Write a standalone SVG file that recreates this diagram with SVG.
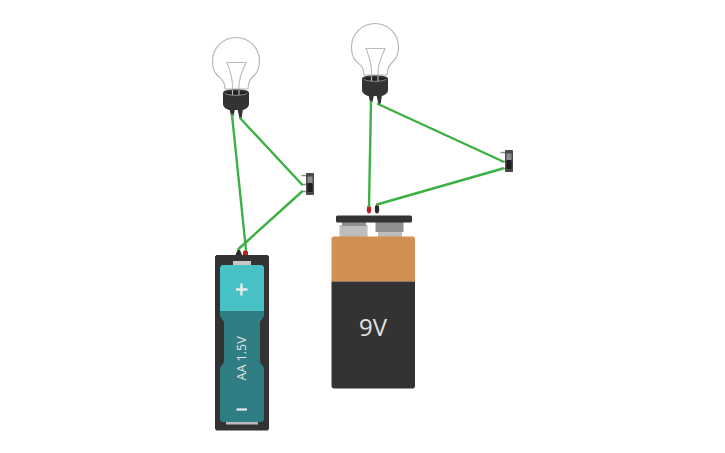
<svg xmlns="http://www.w3.org/2000/svg" width="725" height="453" viewBox="0 0 725 453">
<style>
.wire{fill:none;stroke:#3cb043;stroke-width:2.400;stroke-linecap:round}
.glass{fill:#fff;stroke:#b4b4b4;stroke-width:1.100}
.fil{fill:none;stroke:#bcbcbc;stroke-width:1.100}
.dark{fill:#333}
.lbl{font-family:"Open Sans","Noto Sans",sans-serif;fill:#e2e2e2}
</style>
<defs>
<g id="bulb">
<path class="glass" d="M225 89C225 81 221 79 217 75C213 71 212.500 66 212.500 61C212.500 48 223 37.500 236 37.500C249 37.500 259.500 48 259.500 61C259.500 66 258.500 71 254.500 75C250.500 79 248 82 248 89Z"/>
<path class="fil" d="M232.500 92V85C232 76 230 70 227 62.500H246C243 70 239.500 76 239 85V92"/>
<path class="dark" d="M223 93C223 90 229 89.500 236 89.500C243 89.500 249 90 249 93V104C249 107 246 109 243 110H229C226 109 223 107 223 104Z"/>
<path d="M225 93C227 91 245 91 247 93C245 95.500 227 95.500 225 93Z" fill="#222"/>
<path d="M225 93.500C230 96 242 96 247 93.500" fill="none" stroke="#aaa" stroke-width=".7"/>
<path class="fil" d="M232.500 90V95M239 90V95"/>
<path class="dark" d="M229.500 109H235L233.500 116H231ZM237.500 109H243L241.500 118.500H239.500Z"/>
</g>
<g id="switch">
<path d="M301.500 175.500H306M301.500 184.500H306M301.500 191.500H306" stroke="#8c8c8c" stroke-width="1.700"/>
<rect x="306" y="173" width="8" height="22" rx=".8" fill="#4a4a4a"/>
<rect x="307.500" y="176.500" width="5" height="8" fill="#8c8c8c"/>
<rect x="307.500" y="183" width="5" height="9" fill="#1e1e1e"/>
</g>
</defs>
<rect width="725" height="453" fill="#fff"/>
<g id="bulb-1"><use href="#bulb"/></g>
<g id="bulb-2"><use href="#bulb" x="139" y="-14"/></g>
<g id="switch-1"><use href="#switch"/></g>
<g id="switch-2"><use href="#switch" x="199" y="-23"/></g>
<g id="battery-aa">
<path class="dark" d="M216.500 255H267.500L269 256.500V429L267.500 430.500H216.500L215 429V256.500Z"/>
<rect x="233" y="261" width="18" height="5" fill="#c8c8c8"/>
<rect x="226" y="421" width="32" height="3.500" fill="#bbb"/>
<path d="M222 265H262L264 267V311H220V267Z" fill="#48c1c6"/>
<path d="M220 311H264V316L260 322V362L264 368V420L262 422H222L220 420V368L224 362V322L220 316Z" fill="#2f7e84"/>
<path d="M236 289.500H247.500M241.500 283.500V295.500" stroke="#e6ecec" stroke-width="2.400" fill="none"/>
<path d="M236.500 409.500H247" stroke="#e6ecec" stroke-width="2.200"/>
<text class="lbl" transform="translate(246 380.500) rotate(-90)" font-size="12.500">AA 1.5V</text>
<path d="M235.500 255L237.500 250H240L242 255Z" fill="#2b2b2b"/>
<path d="M243 255V251.500L245.500 249.500L248 251.500V255Z" fill="#c0201f"/>
</g>
<g id="battery-9v">
<rect x="339.500" y="225" width="28" height="12" fill="#bdbdbd"/>
<rect x="342" y="222" width="24" height="4" fill="#8f8f8f"/>
<rect x="378" y="231" width="24" height="6" fill="#bdbdbd"/>
<rect x="375.500" y="222" width="28" height="10" fill="#8f8f8f"/>
<rect x="336" y="215.500" width="76" height="7" rx="1.500" fill="#333"/>
<path d="M334 236.500H413C414 236.500 415 237.500 415 239V281.500H331.500V239C331.500 237.500 332.500 236.500 334 236.500Z" fill="#d18f52"/>
<path d="M331.500 281.500H415V386C415 387.500 414 388.500 413 388.500H334C332.500 388.500 331.500 387.500 331.500 386Z" fill="#333"/>
<text class="lbl" x="373" y="336" font-size="24" text-anchor="middle">9V</text>
<ellipse cx="369" cy="209.500" rx="2.200" ry="4" fill="#c0201f"/>
<ellipse cx="377" cy="209" rx="2.200" ry="4.500" fill="#2b2b2b"/>
</g>
<g id="connectors">
<path class="wire" d="M232 115L246 250"/>
<path class="wire" d="M240 118L302 184.500"/>
<path class="wire" d="M302 191.500L238.500 249"/>
<path class="wire" d="M371 102L369 206"/>
<path class="wire" d="M378 104L503 161.500"/>
<path class="wire" d="M377 204.500L503 168.500"/>
</g>
</svg>
